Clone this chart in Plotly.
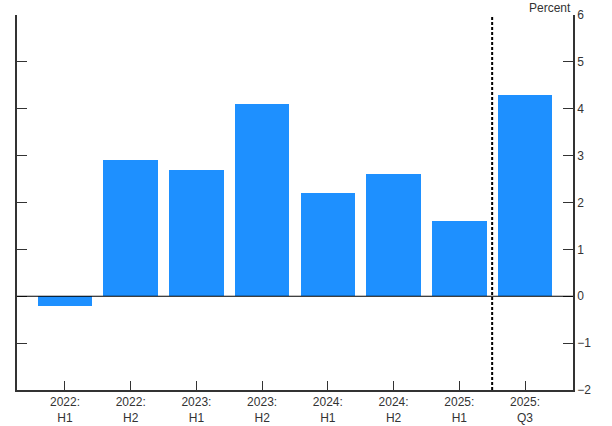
import plotly.graph_objects as go

categories = ["2022:<br>H1", "2022:<br>H2", "2023:<br>H1", "2023:<br>H2",
              "2024:<br>H1", "2024:<br>H2", "2025:<br>H1", "2025:<br>Q3"]
values = [-0.2, 2.9, 2.7, 4.1, 2.2, 2.6, 1.6, 4.3]
y_ticks = [-2, -1, 0, 1, 2, 3, 4, 5, 6]
divider_position = 6.5

fig = go.Figure()
fig.add_trace(go.Bar(x=list(range(len(categories))), y=values,
                     marker=dict(color="#1E90FF", line=dict(width=0)),
                     width=0.83, yaxis="y", showlegend=False))
# invisible trace for left axis
fig.add_trace(go.Scatter(x=[0], y=[0], yaxis="y2", mode="markers",
                         marker=dict(opacity=0), showlegend=False, hoverinfo="skip"))

axis_color = "#333333"
font = dict(family="Liberation Sans, Arial, sans-serif", size=12, color="#333333")

fig.update_layout(
    width=612, height=426,
    margin=dict(l=17, r=39, t=15, b=36, autoexpand=False),
    plot_bgcolor="white", paper_bgcolor="white",
    font=font,
    bargap=0,
    xaxis=dict(range=[-0.73, len(categories) - 0.27], tickmode="array",
               tickvals=list(range(len(categories))), ticktext=categories,
               ticks="inside", ticklen=9, tickcolor=axis_color, tickwidth=1,
               showline=True, linecolor=axis_color, linewidth=1.5,
               showgrid=False, zeroline=False, automargin=False),
    yaxis=dict(range=[-2, 6], side="right", tickvals=y_ticks,
               ticks="inside", ticklen=10, tickcolor=axis_color, tickwidth=1,
               showline=True, linecolor=axis_color, linewidth=1.5,
               showgrid=False, zeroline=False, automargin=False),
    yaxis2=dict(range=[-2, 6], side="left", overlaying="y", tickvals=y_ticks,
                showticklabels=False,
                ticks="inside", ticklen=10, tickcolor=axis_color, tickwidth=1,
                showline=True, linecolor=axis_color, linewidth=1.5,
                showgrid=False, zeroline=False, automargin=False),
    shapes=[
        dict(type="line", xref="paper", x0=0, x1=1, yref="y", y0=0, y1=0,
             line=dict(color="black", width=1.2)),
        dict(type="line", xref="x", x0=divider_position, x1=divider_position,
             yref="paper", y0=0, y1=1, line=dict(color="black", width=2, dash="3px,2px")),
    ],
    annotations=[
        dict(text="Percent", xref="paper", x=1.0, xanchor="right",
             yref="paper", y=1.0, yanchor="bottom", yshift=-2, showarrow=False,
             font=dict(family="Liberation Sans, Arial, sans-serif", size=12, color="#333333")),
    ],
)

fig.write_html("out.html", config={"displayModeBar": False},
               post_script="document.body.style.margin='0';")
